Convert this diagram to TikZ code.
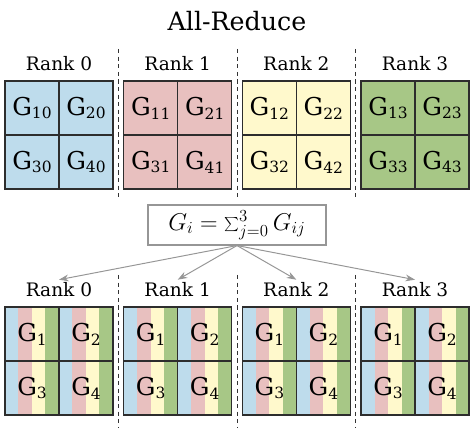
\documentclass[tikz,border=0pt]{standalone}
\usepackage[no-math]{fontspec}
\setmainfont{DejaVu Serif}
\usetikzlibrary{arrows.meta}
\definecolor{rankBlue}{RGB}{190,220,236}
\definecolor{rankRed}{RGB}{232,192,191}
\definecolor{rankYellow}{RGB}{255,249,204}
\definecolor{rankGreen}{RGB}{167,199,134}
\definecolor{cellEdge}{RGB}{45,45,45}
\definecolor{arrGray}{RGB}{150,150,150}
\newcommand{\subFont}{\fontsize{11}{13}\selectfont}
\newcommand{\Gsub}[1]{G\raisebox{-0.3ex}{\subFont#1}}
\tikzset{
    cell/.style={rectangle,draw=cellEdge,line width=0.8pt,minimum size=1.35cm,inner sep=0pt,
        font=\fontsize{17.5}{20}\selectfont},
    mixcell/.style={cell,path picture={
        \foreach \c [count=\k from 0] in {rankBlue,rankRed,rankYellow,rankGreen}
            \fill[\c] ([xshift=\k*0.3375cm]path picture bounding box.south west) rectangle ++(0.3375cm,1.35cm);}},
    rank/.style={font=\fontsize{13.2}{15}\selectfont,inner sep=1pt},
    sep/.style={draw=black!80,line width=0.7pt,dash pattern=on 3pt off 2.4pt},
    arr/.style={-{Stealth[length=2.4mm,width=1.7mm]},draw=arrGray,line width=0.7pt},
    formula/.style={rectangle,draw=arrGray,line width=0.8pt,fill=white,minimum width=4.45cm,
        minimum height=1cm,font=\fontsize{17.28}{20}\selectfont}
}
\begin{document}
\begin{tikzpicture}
    \useasboundingbox (0,0) rectangle (11.85,10.75);
    \node[font=\fontsize{18}{21}\selectfont] (title) at (5.925,10.22) {All-Reduce};
    % separators
    \foreach \x in {2.958,5.925,8.892} {
        \draw[sep] (\x,9.525) -- (\x,5.825);
        \draw[sep] (\x,3.875) -- (\x,0.05);
    }
    % before: every rank holds its own gradients
    \node[rank] (rankT0) at ( 1.475,9.15) {Rank 0};
    \node[rank] (rankT1) at ( 4.442,9.15) {Rank 1};
    \node[rank] (rankT2) at ( 7.409,9.15) {Rank 2};
    \node[rank] (rankT3) at (10.376,9.15) {Rank 3};
    \node[cell,fill=rankBlue]   (g10) at ( 0.800,8.05) {\Gsub{10}};
    \node[cell,fill=rankBlue]   (g20) at ( 2.150,8.05) {\Gsub{20}};
    \node[cell,fill=rankBlue]   (g30) at ( 0.800,6.70) {\Gsub{30}};
    \node[cell,fill=rankBlue]   (g40) at ( 2.150,6.70) {\Gsub{40}};
    \node[cell,fill=rankRed]    (g11) at ( 3.767,8.05) {\Gsub{11}};
    \node[cell,fill=rankRed]    (g21) at ( 5.117,8.05) {\Gsub{21}};
    \node[cell,fill=rankRed]    (g31) at ( 3.767,6.70) {\Gsub{31}};
    \node[cell,fill=rankRed]    (g41) at ( 5.117,6.70) {\Gsub{41}};
    \node[cell,fill=rankYellow] (g12) at ( 6.734,8.05) {\Gsub{12}};
    \node[cell,fill=rankYellow] (g22) at ( 8.084,8.05) {\Gsub{22}};
    \node[cell,fill=rankYellow] (g32) at ( 6.734,6.70) {\Gsub{32}};
    \node[cell,fill=rankYellow] (g42) at ( 8.084,6.70) {\Gsub{42}};
    \node[cell,fill=rankGreen]  (g13) at ( 9.701,8.05) {\Gsub{13}};
    \node[cell,fill=rankGreen]  (g23) at (11.051,8.05) {\Gsub{23}};
    \node[cell,fill=rankGreen]  (g33) at ( 9.701,6.70) {\Gsub{33}};
    \node[cell,fill=rankGreen]  (g43) at (11.051,6.70) {\Gsub{43}};
    % the sum
    \node[formula] (sumbox) at (5.925,5.125) {$G_i = \sum_{j=0}^{3} G_{ij}$};
    % after: every rank holds the summed gradients
    \node[rank] (rankB0) at ( 1.475,3.5) {Rank 0};
    \node[rank] (rankB1) at ( 4.442,3.5) {Rank 1};
    \node[rank] (rankB2) at ( 7.409,3.5) {Rank 2};
    \node[rank] (rankB3) at (10.376,3.5) {Rank 3};
    \foreach \r/\x in {0/0.800,1/3.767,2/6.734,3/9.701} {
        \node[mixcell] (s1r\r) at (\x,2.40)      {\Gsub{1}};
        \node[mixcell] (s2r\r) at (\x+1.35,2.40) {\Gsub{2}};
        \node[mixcell] (s3r\r) at (\x,1.05)      {\Gsub{3}};
        \node[mixcell] (s4r\r) at (\x+1.35,1.05) {\Gsub{4}};
    }
    \foreach \r in {0,...,3}
        \draw[arr] (sumbox.south) -- ([yshift=1pt]rankB\r.north);
\end{tikzpicture}
\end{document}
